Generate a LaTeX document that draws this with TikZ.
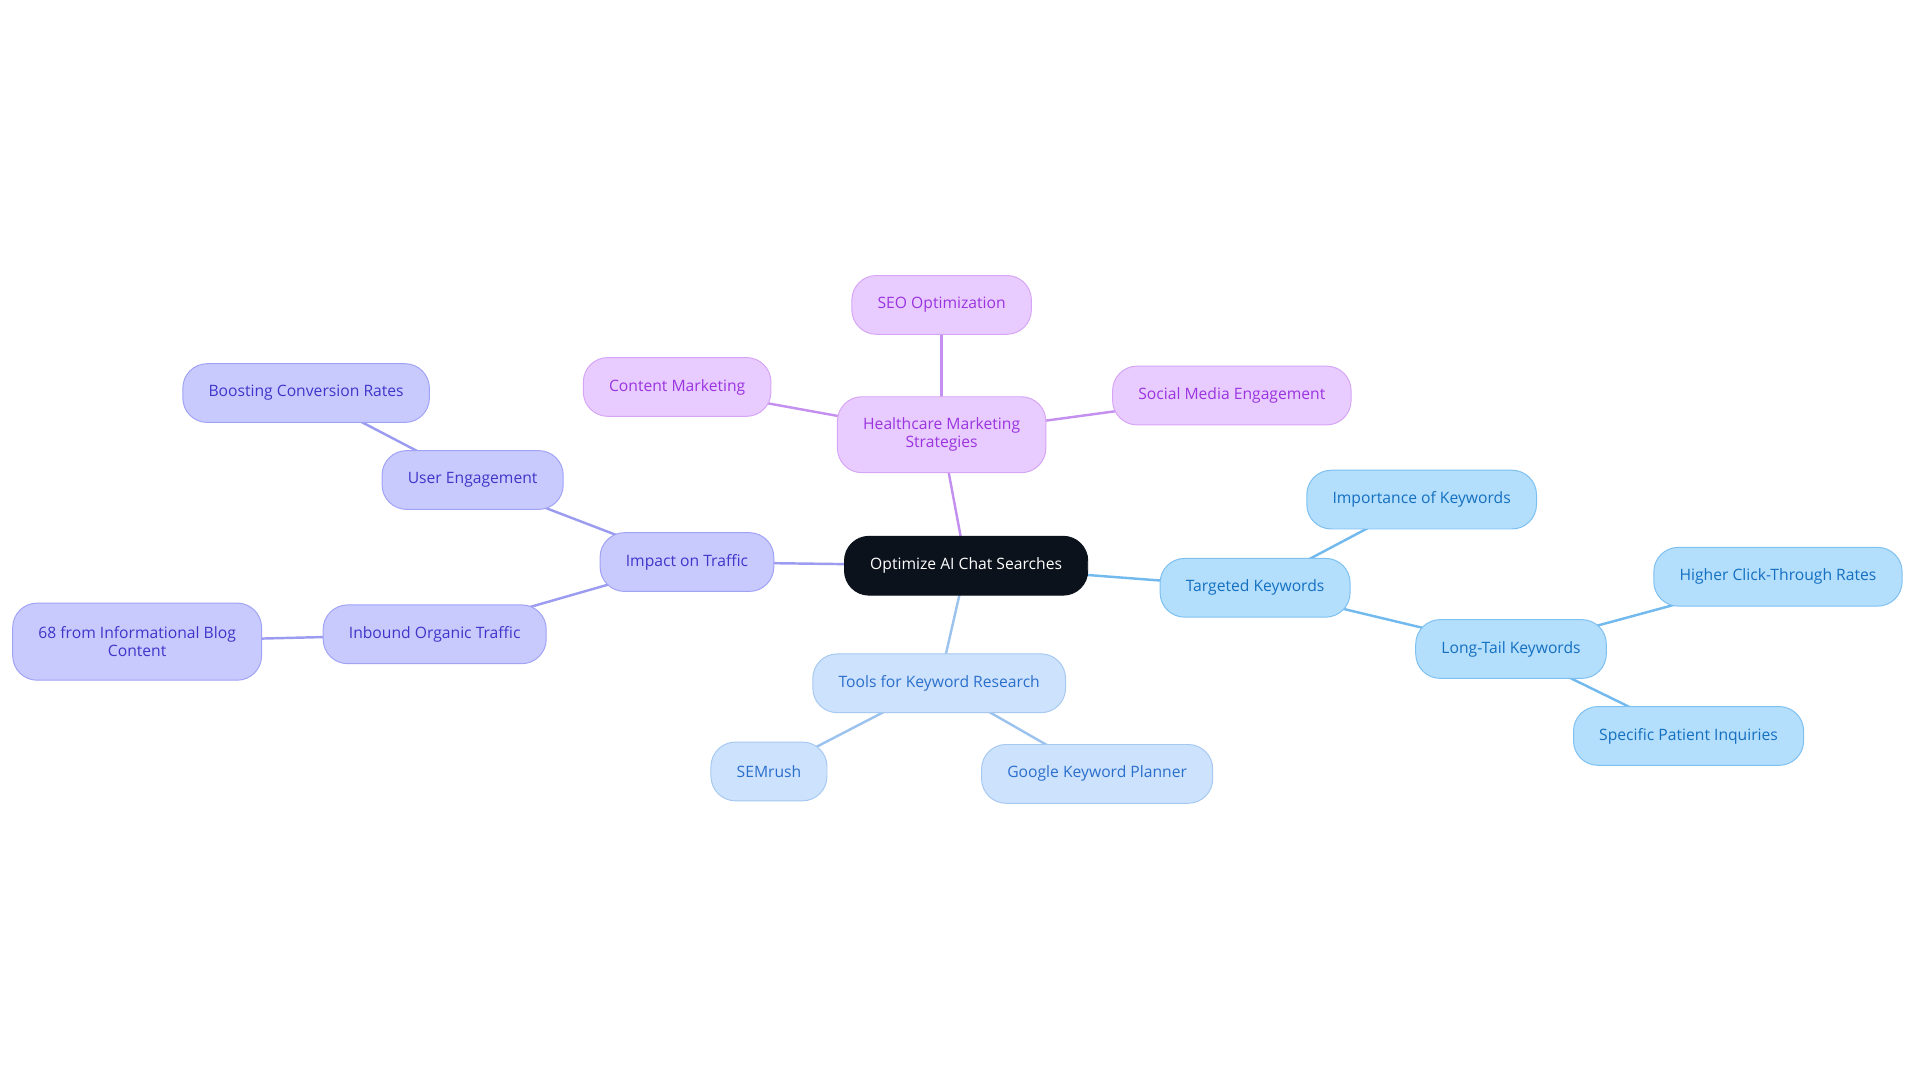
\documentclass[tikz,border=0pt]{standalone}
\usepackage{fontspec}
\setmainfont{Open Sans}
\usetikzlibrary{positioning,backgrounds}
\definecolor{rootfill}{HTML}{0C121C}
\definecolor{purfill}{HTML}{E9CCFF}
\definecolor{purdraw}{HTML}{D6A5F5}
\definecolor{purtext}{HTML}{9A34E0}
\definecolor{purline}{HTML}{C390F0}
\definecolor{indfill}{HTML}{C8CAFE}
\definecolor{inddraw}{HTML}{A0A3F5}
\definecolor{indtext}{HTML}{3F36C9}
\definecolor{indline}{HTML}{9B9CF0}
\definecolor{skyfill}{HTML}{B3DEFC}
\definecolor{skydraw}{HTML}{7EC0F0}
\definecolor{skytext}{HTML}{1570C0}
\definecolor{skyline}{HTML}{72B9EE}
\definecolor{tolfill}{HTML}{CDE2FC}
\definecolor{toldraw}{HTML}{A6C9F2}
\definecolor{toltext}{HTML}{2A6FCC}
\definecolor{tolline}{HTML}{9CC3EE}
\tikzset{
  idea/.style={rounded corners=20pt, minimum height=48pt, inner xsep=21pt,
    align=center, font=\fontsize{12.8}{15}\selectfont, line width=0.8pt},
  rootidea/.style={idea, fill=rootfill, draw=rootfill, text=white},
  puridea/.style={idea, fill=purfill, draw=purdraw, text=purtext},
  indidea/.style={idea, fill=indfill, draw=inddraw, text=indtext},
  skyidea/.style={idea, fill=skyfill, draw=skydraw, text=skytext},
  tolidea/.style={idea, fill=tolfill, draw=toldraw, text=toltext},
  link/.style={line width=2pt}
}
\begin{document}
\begin{tikzpicture}[x=1pt,y=-1pt]
    \useasboundingbox (0,0) rectangle (1568,884.4);
    \node[rootidea] (R) at (789,462) {Optimize AI Chat Searches};

    \node[puridea, minimum height=62pt] (HM) at (769,355) {Healthcare Marketing\\Strategies};
    \node[puridea] (SEO) at (769,249) {SEO Optimization};
    \node[puridea] (CM) at (553,316) {Content Marketing};
    \node[puridea] (SM) at (1006,323) {Social Media Engagement};

    \node[skyidea] (TK) at (1025,480) {Targeted Keywords};
    \node[skyidea] (IK) at (1161,408) {Importance of Keywords};
    \node[skyidea] (LT) at (1234,530) {Long-Tail Keywords};
    \node[skyidea] (HC) at (1452,471) {Higher Click-Through Rates};
    \node[skyidea] (SP) at (1379,601) {Specific Patient Inquiries};

    \node[tolidea] (TR) at (767,558) {Tools for Keyword Research};
    \node[tolidea] (SE) at (628,630) {SEMrush};
    \node[tolidea] (GK) at (896,632) {Google Keyword Planner};

    \node[indidea] (IT) at (561,459) {Impact on Traffic};
    \node[indidea] (UE) at (386,392) {User Engagement};
    \node[indidea] (BC) at (250,321) {Boosting Conversion Rates};
    \node[indidea] (IO) at (355,518) {Inbound Organic Traffic};
    \node[indidea, minimum height=63pt] (IB) at (112,524) {68 from Informational Blog\\Content};

    % links run centre to centre, under the boxes
    \begin{scope}[on background layer]
    \draw[link, purline] (R.center) -- (HM.center);
    \draw[link, purline] (HM.center) edge (SEO.center) edge (CM.center) edge (SM.center);
    \draw[link, skyline] (R.center) -- (TK.center);
    \draw[link, skyline] (TK.center) edge (IK.center) edge (LT.center);
    \draw[link, skyline] (LT.center) edge (HC.center) edge (SP.center);
    \draw[link, tolline] (R.center) -- (TR.center);
    \draw[link, tolline] (TR.center) edge (SE.center) edge (GK.center);
    \draw[link, indline] (R.center) -- (IT.center);
    \draw[link, indline] (IT.center) edge (UE.center) edge (IO.center);
    \draw[link, indline] (UE.center) -- (BC.center);
    \draw[link, indline] (IO.center) -- (IB.center);
    \end{scope}
  \end{tikzpicture}
\end{document}
